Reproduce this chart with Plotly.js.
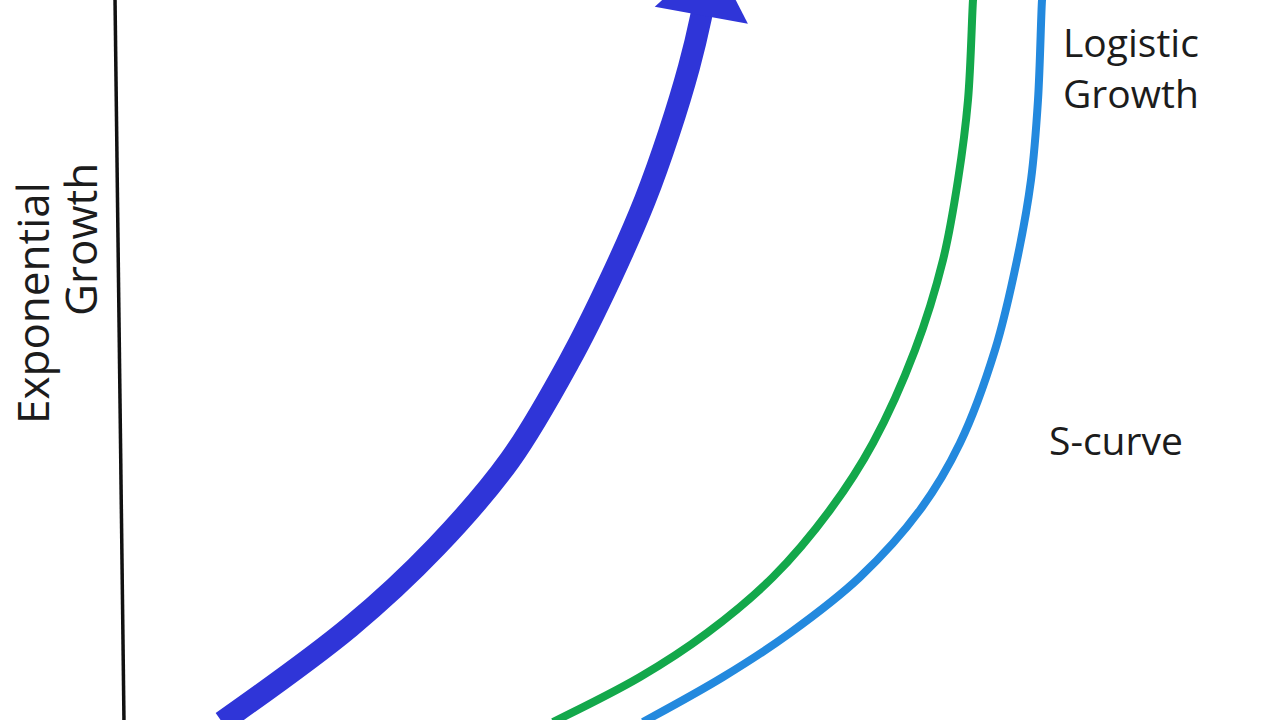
<!DOCTYPE html>
<html>
<head>
<meta charset="utf-8">
<script src="https://cdn.plot.ly/plotly-3.0.1.min.js"></script>
<style>html,body{margin:0;padding:0;background:#fff;}#chart{width:1280px;height:720px;}</style>
</head>
<body>
<div id="chart"></div>
<script>
// Curve values (x = time, y = size)
const expX = [222, 350, 436, 510, 570, 610, 645, 669, 689, 701, 705];
const expY = [-2, 93, 173, 260, 360, 440, 520, 587, 653, 703, 725];

const logX = [553, 640, 707, 773, 830, 873, 915, 943, 958, 968, 973, 974];
const logY = [-2, 43, 87, 143, 210, 277, 370, 460, 540, 620, 720, 732];

const sX = [643, 723, 790, 860, 920, 960, 995, 1017, 1031, 1038, 1042, 1043];
const sY = [-2, 43, 87, 143, 210, 277, 370, 460, 540, 620, 720, 732];

const yTitleLines = ["Exponential", "Growth"];
const labelLogistic = "Logistic<br>Growth";
const labelS = "S-curve";

const font = "'Open Sans', 'Noto Sans', sans-serif";
const textColor = "#1c1c1c";

const expSizes = expX.map((_, i) => i === expX.length - 1 ? 82 : 0);

const traces = [
  {x: logX, y: logY, mode: 'lines', line: {color: '#13a84b', width: 8, shape: 'spline', smoothing: 1}, hoverinfo: 'skip'},
  {x: sX, y: sY, mode: 'lines', line: {color: '#2389de', width: 8, shape: 'spline', smoothing: 1}, hoverinfo: 'skip'},
  {x: expX, y: expY, mode: 'lines+markers', line: {color: '#2f35d8', width: 22, shape: 'spline', smoothing: 1},
   marker: {symbol: 'triangle-up', angleref: 'previous', size: expSizes, opacity: 1, color: '#2f35d8', line: {width: 0}}, hoverinfo: 'skip'}
];

const layout = {
  width: 1280, height: 720,
  margin: {l: 0, r: 0, t: 0, b: 0},
  paper_bgcolor: '#ffffff', plot_bgcolor: '#ffffff',
  showlegend: false,
  xaxis: {range: [0, 1280], visible: false, fixedrange: true},
  yaxis: {range: [0, 720], visible: false, fixedrange: true},
  shapes: [
    {type: 'line', xref: 'x', yref: 'y', x0: 115, y0: 722, x1: 124, y1: -2, line: {color: '#111111', width: 3.5}}
  ],
  annotations: [
    {xref: 'x', yref: 'y', x: 32, y: 417, text: yTitleLines[0], textangle: -90, showarrow: false,
     xanchor: 'center', yanchor: 'middle', font: {family: font, size: 44, color: textColor}},
    {xref: 'x', yref: 'y', x: 80, y: 480, text: yTitleLines[1], textangle: -90, showarrow: false,
     xanchor: 'center', yanchor: 'middle', font: {family: font, size: 44, color: textColor}},
    {xref: 'x', yref: 'y', x: 1061, y: 653, text: labelLogistic, showarrow: false, align: 'left',
     xanchor: 'left', yanchor: 'middle', font: {family: font, size: 39, color: textColor}},
    {xref: 'x', yref: 'y', x: 1047, y: 281, text: labelS, showarrow: false, align: 'left',
     xanchor: 'left', yanchor: 'middle', font: {family: font, size: 39, color: textColor}}
  ]
};

Plotly.newPlot('chart', traces, layout, {staticPlot: true, displayModeBar: false});
</script>
</body>
</html>
